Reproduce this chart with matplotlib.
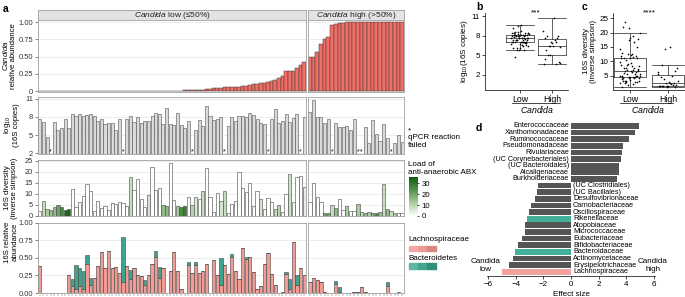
import numpy as np
import matplotlib
matplotlib.use('Agg')
import matplotlib.pyplot as plt
from matplotlib.colors import LinearSegmentedColormap, Normalize

plt.rcParams['font.family'] = ['Liberation Sans', 'DejaVu Sans']
plt.rcParams['mathtext.fontset'] = 'custom'
plt.rcParams['mathtext.rm'] = 'Liberation Sans'
plt.rcParams['mathtext.it'] = 'Liberation Sans:italic'
plt.rcParams['font.size'] = 5.3
plt.rcParams['axes.linewidth'] = 0.5
plt.rcParams['xtick.major.width'] = 0.5
plt.rcParams['ytick.major.width'] = 0.5
plt.rcParams['xtick.major.size'] = 2
plt.rcParams['ytick.major.size'] = 2
plt.rcParams['xtick.major.pad'] = 1.5
plt.rcParams['ytick.major.pad'] = 1.5

# ---- panel a data (one entry per patient sample) ----
candida_low = [0] * 33 + [0.002, 0.003, 0.004, 0.005, 0.006, 0.008, 0.010, 0.012, 0.015, 0.018,
                          0.020, 0.022, 0.025, 0.028, 0.035, 0.045, 0.050, 0.052, 0.055, 0.058,
                          0.062, 0.065, 0.068, 0.072, 0.080, 0.090, 0.10, 0.11, 0.12, 0.125,
                          0.13, 0.15, 0.17, 0.19, 0.22, 0.29, 0.29, 0.29, 0.34, 0.38, 0.43]
candida_high = [0.50, 0.50, 0.57, 0.69, 0.75, 0.78, 0.96, 0.975, 0.985, 0.99, 0.995, 0.997, 0.998,
                0.999, 1, 1, 1, 1, 1, 1, 1, 1, 1, 1, 1, 1]

nan = np.nan
copies_low = [7.7, 7.1, 4.7, nan, 7.1, 5.9, 6.2, 7.6, 6.1, 8.4, 8.2, 8.4, 8.1, 8.3, 8.5, 8.1, 7.3,
              7.7, 6.8, 7.0, 7.0, 5.9, 7.6, nan, 7.6, 8.2, 7.1, 8.0, 7.0, 7.3, 7.3, 8.1, 8.7, 8.5,
              6.9, 9.5, 6.8, 6.6, 8.6, 6.6, 6.2, 7.3, nan, 5.8, 7.4, 6.5, 9.7, 8.1, 7.5, 7.6, 7.9,
              nan, 6.5, 7.9, 7.3, 8.1, 8.2, 8.0, 8.6, 8.3, 7.6, 7.0, 6.9, nan, 7.7, 9.2, 7.0, 7.3,
              8.5, 7.1, 7.8, 8.4, nan, 8.0]
copies_high = [8.8, 10.8, 7.95, 7.95, 7.0, 7.6, nan, 7.0, 6.4, 6.3, 6.5, 5.9, 7.7, nan, nan, 6.4,
               3.75, 7.4, 5.1, 4.0, 6.9, 4.5, nan, 3.75, 5.0, 3.85]

diversity_low = [2.3, 6.9, 3.0, 2.7, 4.2, 4.8, 4.1, 2.7, 3.2, 12.1, 4.1, 6.3, 8.9, 14.3, 11.5, 2.4,
                 6.6, 3.5, 4.5, 2.7, 5.7, 5.6, 6.2, 6.0, 4.7, 17.5, 11.8, 16.6, 7.5, 4.1, 9.5, 22.0,
                 11.8, 12.5, 4.8, 4.5, 23.8, 7.2, 4.5, 3.9, 4.5, 8.7, 5.0, 8.4, 7.8, 11.3, 21.6, 8.8,
                 2.0, 10.3, 7.0, 11.3, 1.2, 5.6, 6.8, 19.8, 12.5, 11.0, 14.8, 4.5, 11.3, 7.5, 3.2,
                 8.3, 6.5, 3.0, 5.0, 1.7, 9.8, 18.9, 6.5, 17.8, 18.1, 13.0]
diversity_high = [6.2, 14.8, 8.7, 6.5, 1.5, 1.5, 4.8, 3.8, 7.5, 2.7, 4.5, 2.3, 2.3, 5.4, 2.0, 1.5,
                  1.7, 1.4, 1.4, 1.8, 14.3, 3.0, 2.4, 1.5, 1.2, 1.2]
abx_low = [0, 8, 12, 15, 15, 20, 25, 33, 33, 0, 0, 0, 0, 0, 0, 0, 0, 0, 0, 0, 0, 0, 0, 0, 0, 8, 0,
           0, 0, 0, 6, 0, 0, 0, 15, 15, 0, 0, 12, 25, 28, 0, 10, 5, 0, 8, 0, 0, 0, 0, 6, 8, 0, 0,
           0, 0, 0, 0, 0, 0, 0, 6, 0, 0, 0, 8, 10, 0, 0, 7, 0, 0, 0, 4]
abx_high = [0, 0, 0, 0, 20, 20, 8, 15, 0, 0, 12, 0, 0, 12, 10, 15, 12, 18, 25, 15, 8, 15, 8, 10, 0, 0]

lachno_low = [0.38, 0.006, 0.004, 0, 0, 0, 0, 0, 0.25, 0.10, 0.05, 0.10, 0.05, 0.42, 0.12, 0.22,
              0.38, 0.58, 0.35, 0.60, 0.35, 0.37, 0.29, 0.15, 0.38, 0.20, 0.35, 0.26, 0.24, 0.12,
              0.25, 0.41, 0.52, 0.22, 0.35, 0, 0.31, 0.58, 0.32, 0.06, 0, 0.40, 0.28, 0.40, 0.28,
              0.31, 0.41, 0, 0.47, 0.26, 0.12, 0.40, 0.27, 0.52, 0.32, 0.20, 0.64, 0.49, 0.52,
              0.30, 0.05, 0.10, 0.42, 0.57, 0.27, 0.12, 0, 0.02, 0.27, 0.05, 0.72, 0.12, 0.35, 0.26]
bact_low = [0, 0, 0, 0, 0, 0, 0, 0, 0, 0.10, 0.35, 0.25, 0.27, 0.12, 0.10, 0, 0, 0, 0, 0, 0, 0, 0,
            0.65, 0, 0.13, 0, 0, 0, 0.06, 0, 0, 0.08, 0.15, 0, 0, 0, 0, 0, 0, 0, 0.04, 0, 0.04, 0,
            0, 0, 0, 0, 0, 0.38, 0, 0, 0.03, 0, 0, 0, 0.03, 0, 0, 0, 0, 0, 0, 0, 0, 0, 0, 0.03,
            0.15, 0, 0.13, 0, 0]
lachno_high = [0.15, 0.22, 0.18, 0.16, 0.02, 0, 0, 0.13, 0.02, 0, 0, 0.003, 0.01, 0.02, 0.08, 0.02,
               0, 0, 0, 0, 0, 0.10, 0, 0, 0.005, 0]
bact_high = [0, 0, 0, 0, 0, 0, 0, 0.04, 0.06, 0, 0, 0, 0, 0, 0, 0, 0, 0, 0, 0, 0, 0.06, 0, 0, 0.008, 0]

# ---- panel d data ----
families = ['Lachnospiraceae', 'Erysipelotrichaceae', 'Actinomycetaceae', 'Bacteroidaceae',
            'Bifidobacteriaceae', 'Eubacteriaceae', 'Micrococcaceae', 'Atopobiaceae',
            'Rikenellaceae', 'Oscillospiraceae', 'Carnobacteriaceae', 'Desulfovibrionaceae',
            '(UC Bacillales)', '(UC Clostridiales)', 'Burkholderiaceae', 'Alcaligenaceae',
            '(UC Bacteroidales)', '(UC Corynebacteriales)', 'Rivulariaceae', 'Pseudomonadaceae',
            'Ruminococcaceae', 'Xanthomonadaceae', 'Enterococcaceae']
effect = [-5.02, -4.53, -4.24, -4.07, -3.83, -3.59, -3.32, -3.32, -3.22, -3.03, -2.91, -2.6,
          -2.47, -2.38, 3.35, 3.47, 3.47, 3.64, 3.68, 3.76, 4.24, 4.68, 4.92]

W, H = 685, 297
fig = plt.figure(figsize=(W / 100, H / 100), dpi=100)

RED = '#f26d64'
SALMON = '#f09b94'
TEAL = '#3ea48e'
EDGE = '#3c3c3c'
GRID = '#e6e6e6'
BORDER = '#a0a0a0'
abx_cmap = LinearSegmentedColormap.from_list('abx', ['#ffffff', '#aacb9f', '#4f8f47', '#0a5a0a'])
abx_norm = Normalize(0, 36)


def pax(x0, y0, x1, y1):
    return fig.add_axes([x0 / W, 1 - y1 / H, (x1 - x0) / W, (y1 - y0) / H])


def facet(ax, n, ylim, yticks, labels):
    ax.set_xlim(-0.5, n - 0.5)
    ax.set_ylim(*ylim)
    ax.set_yticks(yticks)
    if labels is None:
        ax.tick_params(axis='y', length=0, labelleft=False)
    else:
        ax.set_yticklabels(labels)
        ax.tick_params(axis='y', colors='#555555', labelcolor='#333333', labelsize=5.4)
    ax.set_xticks([])
    for s in ax.spines.values():
        s.set_color(BORDER)
        s.set_linewidth(0.6)
    ax.grid(axis='y', color=GRID, lw=0.5)
    ax.set_axisbelow(True)


cols = [(38, 306, candida_low, copies_low, diversity_low, abx_low, lachno_low, bact_low, True,
         r'$\it{Candida}$ low (≤50%)'),
        (308, 404, candida_high, copies_high, diversity_high, abx_high, lachno_high, bact_high,
         False, r'$\it{Candida}$ high (>50%)')]

for x0, x1, cand, cop, div, abx, lac, bac, first, title in cols:
    n = len(cand)
    xs = np.arange(n)

    # strip
    st = pax(x0, 10, x1, 20)
    st.set_xticks([])
    st.set_yticks([])
    st.set_facecolor('#e3e3e3')
    for s in st.spines.values():
        s.set_color(BORDER)
        s.set_linewidth(0.6)
    st.text(0.5, 0.45, title, ha='center', va='center', fontsize=6, color='#222222',
            transform=st.transAxes)

    a1 = pax(x0, 20, x1, 92)
    a1.bar(xs, cand, width=1.0, color=RED, edgecolor=EDGE, linewidth=0.35)
    facet(a1, n, (-0.01, 1.03), [0, 0.25, 0.5, 0.75, 1.0],
          ['0', '0.25', '0.50', '0.75', '1.00'] if first else None)

    a2 = pax(x0, 97, x1, 154)
    cop_arr = np.array(cop, dtype=float)
    a2.bar(xs, np.nan_to_num(cop_arr), width=0.85, color='#dadada', edgecolor='#505050',
           linewidth=0.4)
    for i in np.where(np.isnan(cop_arr))[0]:
        a2.text(i, 2.3, '*', ha='center', va='center', fontsize=5)
    facet(a2, n, (1.9, 11.25), [2, 5, 8, 11], ['2', '5', '8', '11'] if first else None)

    a3 = pax(x0, 160, x1, 216)
    a3.bar(xs, div, width=0.9, color=abx_cmap(abx_norm(np.array(abx))), edgecolor='#444444',
           linewidth=0.4)
    facet(a3, n, (0, 25.3), [0, 5, 10, 15, 20, 25],
          ['0', '5', '10', '15', '20', '25'] if first else None)

    a4 = pax(x0, 222.5, x1, 293)
    a4.bar(xs, lac, width=0.9, color=SALMON, edgecolor='#444444', linewidth=0.4)
    a4.bar(xs, bac, bottom=lac, width=0.9, color=TEAL, edgecolor='#444444', linewidth=0.4)
    facet(a4, n, (0, 1.005), [0, 0.25, 0.5, 0.75, 1.0],
          ['0.00', '0.25', '0.50', '0.75', '1.00'] if first else None)
    a4.set_xticks(xs)
    a4.tick_params(axis='x', length=1.8, width=0.3, colors='#555555', labelbottom=False)

# row labels of panel a
fig.text(9 / W, 1 - 56 / H, r'$\it{Candida}$' + '\nrelative abundance', rotation=90,
         ha='center', va='center', fontsize=5.6, linespacing=1.1)
fig.text(11 / W, 1 - 125 / H, 'log$_{10}$\n(16S copies)', rotation=90, ha='center',
         va='center', fontsize=5.6, linespacing=1.1)
fig.text(11 / W, 1 - 188 / H, '16S diversity\n(inverse simpson)', rotation=90, ha='center',
         va='center', fontsize=5.6, linespacing=1.1)
fig.text(11 / W, 1 - 242 / H, '16S relative\nabundance', rotation=90, ha='center',
         va='center', fontsize=5.6, linespacing=1.1)

# legends of panel a
LEG = 5.8
fig.text(408 / W, 1 - 131 / H, '*', fontsize=LEG, va='center')
fig.text(408 / W, 1 - 137.5 / H, 'qPCR reaction', fontsize=LEG, va='center')
fig.text(408 / W, 1 - 145.5 / H, 'failed', fontsize=LEG, va='center')
fig.text(408 / W, 1 - 164 / H, 'Load of', fontsize=LEG, va='center')
fig.text(408 / W, 1 - 172 / H, 'anti-anaerobic ABX', fontsize=LEG, va='center')
cb = pax(408.7, 176.7, 417.3, 216)
cb.imshow(np.linspace(36, 0, 100)[:, None], aspect='auto', cmap=abx_cmap, norm=abx_norm,
          extent=[0, 1, 0, 36])
cb.set_xticks([])
cb.yaxis.tick_right()
cb.set_yticks([0, 10, 20, 30])
cb.tick_params(axis='y', length=1.5, pad=1.5, labelsize=5.6)
for s in cb.spines.values():
    s.set_visible(False)
fig.text(408 / W, 1 - 239.5 / H, 'Lachnospiraceae', fontsize=LEG, va='center')
fig.text(408 / W, 1 - 258.3 / H, 'Bacteroidetes', fontsize=LEG, va='center')
for yy, shades in [(245.7, ['#f2aaa4', '#ea9b94', '#d98880']),
                   (263.3, ['#5bb7a2', '#45a690', '#2f9079'])]:
    for k, c in enumerate(shades):
        fig.patches.append(plt.Rectangle(((408.7 + k * 9.1) / W, 1 - (yy + 5.2) / H), 9.1 / W,
                                         5.2 / H, transform=fig.transFigure, color=c))


# ---- panels b and c ----
def box_panel(ax, low, high, ylim, yticks, ylabel, stars, xlim):
    low = [v for v in low if not np.isnan(v)]
    high = [v for v in high if not np.isnan(v)]
    ax.boxplot([low, high], positions=[1, 2], widths=0.85, showfliers=False,
               capwidths=0.85, medianprops=dict(color='#222222', lw=0.5),
               boxprops=dict(color='#222222', lw=0.5), whiskerprops=dict(color='#222222', lw=0.5),
               capprops=dict(color='#222222', lw=0.5))
    for pos, vals in [(1, low), (2, high)]:
        jit = ((np.arange(len(vals)) * 0.618) % 1 - 0.5) * 0.55
        ax.scatter(pos + jit, vals, s=1.4, color='black', lw=0, zorder=3)
    ax.set_xlim(*xlim)
    ax.set_ylim(*ylim)
    ax.set_yticks(yticks)
    ax.set_xticks([1, 2])
    ax.set_xticklabels(['Low', 'High'], fontsize=6.3)
    ax.tick_params(axis='y', labelsize=5.8)
    ax.spines['top'].set_visible(False)
    ax.spines['right'].set_visible(False)
    ax.set_ylabel(ylabel, fontsize=5.8, labelpad=1.5, linespacing=1.1)
    ax.text(1.5, ylim[1], stars, ha='center', va='center', fontsize=6)


b = pax(485, 13, 568, 90)
box_panel(b, copies_low, copies_high, (-0.3, 11.5), [2, 5, 8, 11], 'log$_{10}$(16S copies)',
          '***', (-0.09, 2.5))
c = pax(613, 13, 685, 90)
box_panel(c, diversity_low, diversity_high, (0, 26.8), [5, 10, 15, 20, 25],
          '16S diversity\n(inverse simpson)', '****', (0.55, 2.45))
for x0, x1, xc in [(512, 560, 537), (620, 673, 648)]:
    fig.add_artist(plt.Line2D([x0 / W, x1 / W], [1 - 102.7 / H] * 2, color='black', lw=0.5))
    fig.text(xc / W, 1 - 109.5 / H, r'$\it{Candida}$', ha='center', va='center', fontsize=6.3)

# ---- panel d ----
d = pax(487, 122, 655, 276)
ys = np.arange(len(families))
colors = ['#555555'] * len(families)
colors[families.index('Lachnospiraceae')] = '#f0a29b'
colors[families.index('Bacteroidaceae')] = '#45b09a'
colors[families.index('Rikenellaceae')] = '#45b09a'
d.barh(ys, effect, height=0.86, color=colors)
for y, v, name in zip(ys, effect, families):
    if v > 0:
        d.text(-0.15, y, name, ha='right', va='center', fontsize=5.2)
    else:
        d.text(0.15, y, name, ha='left', va='center', fontsize=5.2)
d.set_xlim(-6.1, 6.1)
d.set_ylim(-0.65, 22.6)
d.set_xticks([-6, -4, -2, 0, 2, 4, 6])
d.set_xticklabels(['−6', '−4', '−2', '0', '2', '4', '6'], fontsize=5.8)
d.set_yticks([])
for s in ['top', 'right', 'left']:
    d.spines[s].set_visible(False)
d.set_xlabel('Effect size', fontsize=5.8, labelpad=2)
d.text(-6.2, 0.95, 'Candida\nlow', ha='center', va='center', fontsize=5.8, linespacing=1.2)
d.text(5.95, 0.95, 'Candida\nhigh', ha='center', va='center', fontsize=5.8, linespacing=1.2)

for lab, xx, yy in [('a', 3, 9), ('b', 476, 7), ('c', 582, 7), ('d', 476, 128)]:
    fig.text(xx / W, 1 - yy / H, lab, fontsize=7.5, fontweight='bold', va='center')

fig.savefig('out.png', dpi=100)
